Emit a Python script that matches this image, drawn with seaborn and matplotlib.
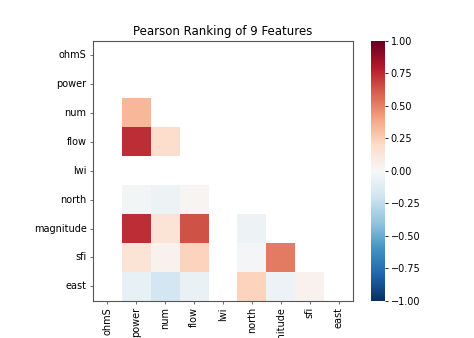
import numpy as np
import pandas as pd
import matplotlib
matplotlib.use("Agg")
import matplotlib.pyplot as plt
import seaborn as sns

features = ["ohmS", "power", "num", "flow", "lwi", "north", "magnitude", "sfi", "east"]
nan = np.nan
# lower-triangle Pearson values, one list per row (columns in features order)
row_ohmS = []
row_power = [nan]
row_num = [nan, 0.33]
row_flow = [nan, 0.74, 0.18]
row_lwi = [nan, nan, nan, nan]
row_north = [nan, -0.03, -0.05, 0.02, nan]
row_magnitude = [nan, 0.74, 0.14, 0.64, nan, -0.05]
row_sfi = [nan, 0.14, 0.04, 0.23, nan, -0.02, 0.52]
row_east = [nan, -0.08, -0.18, -0.07, nan, 0.23, -0.06, 0.04]
rows = [row_ohmS, row_power, row_num, row_flow, row_lwi, row_north,
        row_magnitude, row_sfi, row_east]

n = len(features)
mat = np.full((n, n), np.nan)
for i, r in enumerate(rows):
    for j, v in enumerate(r):
        mat[i, j] = v
df = pd.DataFrame(mat, index=features, columns=features)
mask = np.triu(np.ones((n, n), dtype=bool))

fig, ax = plt.subplots(figsize=(4.74, 3.38), dpi=100)
sns.heatmap(df, mask=mask, cmap="RdBu_r", vmin=-1, vmax=1, square=True,
            ax=ax, cbar_kws={"ticks": [-1, -0.75, -0.5, -0.25, 0, 0.25, 0.5, 0.75, 1]})
for s in ax.spines.values():
    s.set_visible(True)
    s.set_color("#555555")
    s.set_linewidth(0.8)
ax.set_title("Pearson Ranking of 9 Features", fontsize=8.5, pad=4)
ax.set_xticklabels(features, rotation=90, fontsize=7)
ax.set_yticklabels(features, rotation=0, fontsize=7)
ax.tick_params(length=2.5, width=0.6, pad=2, color="#555555")
cbar = ax.collections[0].colorbar
cbar.ax.tick_params(labelsize=7, length=2.5, width=0.6, pad=2)
cbar.ax.set_yticklabels(["\u22121.00", "\u22120.75", "\u22120.50", "\u22120.25", "0.00",
                         "0.25", "0.50", "0.75", "1.00"])
fig.savefig("out.png", dpi=100)
